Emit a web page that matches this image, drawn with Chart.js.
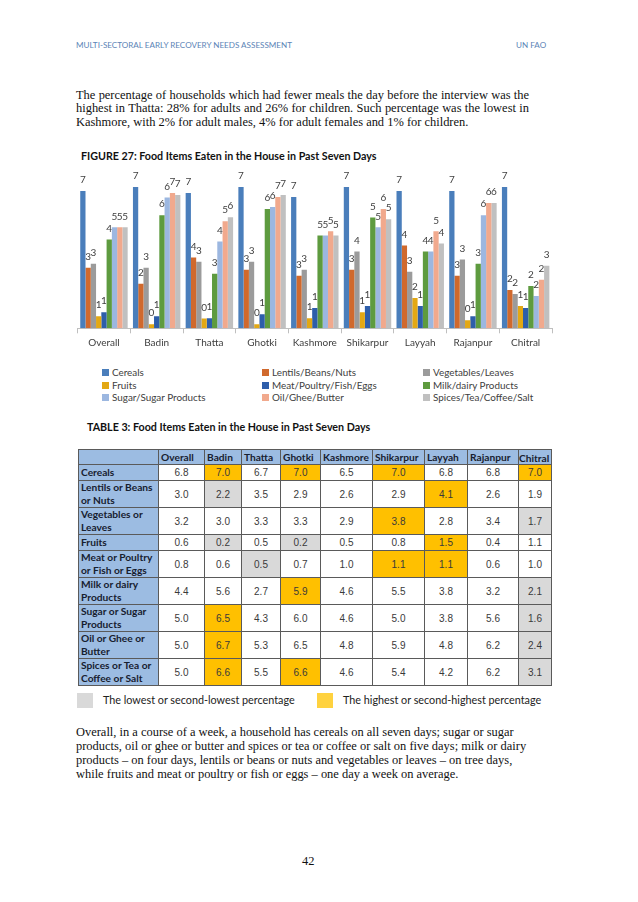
<!DOCTYPE html>
<html>
<head>
<meta charset="utf-8">
<script src="https://cdn.jsdelivr.net/npm/chart.js@4.4.1/dist/chart.umd.min.js"></script>
<style>
  html, body { margin:0; padding:0; background:#fff; }
  #page { position:relative; width:638px; height:902px; overflow:hidden; background:#fff; }
  .abs { position:absolute; white-space:nowrap; }
  .hdr { font-family:'Lato', sans-serif; font-size:8.1px; color:#5b84b6; top:40px; }
  .serif { font-family:'Liberation Serif','Times New Roman',serif; font-size:12.45px; color:#111; }
  .jl { width:453px; text-align:justify; text-align-last:justify; }
  .ttl { font-family:'Lato', sans-serif; font-weight:bold; font-size:10.7px; color:#111; }
  #chartBox { position:absolute; left:60px; top:160px; width:510px; height:200px; }
  .leg { position:absolute; font-family:'Lato', sans-serif; font-size:9.9px; color:#404040; white-space:nowrap; line-height:12px; }
  .leg i { display:inline-block; width:7px; height:7px; margin-right:3px; vertical-align:0px; }
  table.t { position:absolute; left:78px; top:449px; border-collapse:collapse; table-layout:fixed; }
  table.t td { border:1px solid #5a5a5a; padding:0; overflow:hidden; }
  table.t td.h { background:#9cbce2; font-family:'Lato',sans-serif; font-weight:bold; font-size:10.2px; color:#17202f; padding-left:2px; line-height:13px; }
  table.t td.h.last { padding-left:0; white-space:nowrap; overflow:visible; }
  table.t td.n { font-family:'Liberation Sans',Arial,sans-serif; font-size:10px; color:#3a3a3a; text-align:center; }
  table.t td.g { background:#ffc000; }
  table.t td.l { background:#d9d9d9; }
  .bl { position:absolute; font-family:'Lato',sans-serif; font-size:10.8px; color:#222; white-space:nowrap; }
</style>
</head>
<body>
<div id="page">
  <div class="abs hdr" style="left:76px;">MULTI-SECTORAL EARLY RECOVERY NEEDS ASSESSMENT</div>
  <div class="abs hdr" style="left:516px;">UN FAO</div>

  <div class="abs serif jl" style="left:76px; top:88px;">The percentage of households which had fewer meals the day before the interview was the</div>
  <div class="abs serif jl" style="left:76px; top:101.3px;">highest in Thatta: 28% for adults and 26% for children. Such percentage was the lowest in</div>
  <div class="abs serif" style="left:76px; top:114.6px;">Kashmore, with 2% for adult males, 4% for adult females and 1% for children.</div>

  <div class="abs ttl" style="left:81px; top:149px;">FIGURE 27: Food Items Eaten in the House in Past Seven Days</div>

  <div id="chartBox"><canvas id="c"></canvas></div>
  <div id="legend"></div>

  <div class="abs ttl" style="left:87px; top:420px;">TABLE 3: Food Items Eaten in the House in Past Seven Days</div>
  <table class="t" id="tbl"></table>

  <div class="abs" style="left:77px; top:693px; width:16px; height:15px; background:#d9d9d9;"></div>
  <div class="bl" style="left:103px; top:693px;">The lowest or second-lowest percentage</div>
  <div class="abs" style="left:317px; top:693px; width:16px; height:15px; background:#ffd23f;"></div>
  <div class="bl" style="left:343px; top:693px;">The highest or second-highest percentage</div>

  <div class="abs serif" style="left:76px; top:725px;">Overall, in a course of a week, a household has cereals on all seven days; sugar or sugar</div>
  <div class="abs serif" style="left:76px; top:739px;">products, oil or ghee or butter and spices or tea or coffee or salt on five days; milk or dairy</div>
  <div class="abs serif" style="left:76px; top:753px;">products – on four days, lentils or beans or nuts and vegetables or leaves – on tree days,</div>
  <div class="abs serif" style="left:76px; top:767px;">while fruits and meat or poultry or fish or eggs – one day a week on average.</div>

  <div class="abs serif" style="left:302px; top:854px;">42</div>
</div>

<script>
const categories = ['Overall','Badin','Thatta','Ghotki','Kashmore','Shikarpur','Layyah','Rajanpur','Chitral'];
const cereals    = [6.8, 7.0, 6.7, 7.0, 6.5, 7.0, 6.8, 6.8, 7.0];
const lentils    = [3.0, 2.2, 3.5, 2.9, 2.6, 2.9, 4.1, 2.6, 1.9];
const vegetables = [3.2, 3.0, 3.3, 3.3, 2.9, 3.8, 2.8, 3.4, 1.7];
const fruits     = [0.6, 0.2, 0.48, 0.2, 0.5, 0.8, 1.5, 0.4, 1.1];
const meat       = [0.8, 0.6, 0.5, 0.7, 1.0, 1.1, 1.1, 0.6, 1.0];
const milk       = [4.4, 5.6, 2.7, 5.9, 4.6, 5.48, 3.8, 3.2, 2.1];
const sugar      = [5.0, 6.48, 4.3, 6.0, 4.6, 5.0, 3.8, 5.6, 1.6];
const oil        = [5.0, 6.7, 5.3, 6.5, 4.8, 5.9, 4.8, 6.2, 2.4];
const spices     = [5.0, 6.6, 5.5, 6.6, 4.6, 5.4, 4.2, 6.2, 3.1];

const seriesNames = ['Cereals','Lentils/Beans/Nuts','Vegetables/Leaves','Fruits','Meat/Poultry/Fish/Eggs','Milk/dairy Products','Sugar/Sugar Products','Oil/Ghee/Butter','Spices/Tea/Coffee/Salt'];
const rowNames = ['Cereals','Lentils or Beans or Nuts','Vegetables or Leaves','Fruits','Meat or Poultry or Fish or Eggs','Milk or dairy Products','Sugar or Sugar Products','Oil or Ghee or Butter','Spices or Tea or Coffee or Salt'];
const seriesValues = [cereals, lentils, vegetables, fruits, meat, milk, sugar, oil, spices];

// highlight marks per row: 'g' = highest/second-highest, 'l' = lowest/second-lowest
const highlights = [
  '.g.g.g..g',
  '.l....g..',
  '.....g..l',
  '.l.l..g..',
  '..l..gg..',
  '...g....l',
  '.g......l',
  '.g......l',
  '.g.g....l'
];

const colors = ['#4a7ebb','#d0692d','#9b9b9b','#e3a814','#2e5eaa','#5e9b3f','#9cb7e0','#f1a98d','#c0c0c0'];

// ---- Table ----
(function buildTable(){
  const colW = [80, 46, 37, 39, 40, 52, 52, 43, 51, 33];
  const rowH = [15, 16, 27, 27, 16, 27, 27, 27, 27, 27];
  const tbl = document.getElementById('tbl');
  let html = '<colgroup>' + colW.map(w => '<col style="width:' + w + 'px">').join('') + '</colgroup>';
  html += '<tr style="height:' + rowH[0] + 'px"><td class="h"></td>' + categories.map((c, j) =>
    (j === categories.length - 1
      ? '<td class="h last"><span style="position:relative;top:1.5px">' + c + '</span></td>'
      : '<td class="h">' + c + '</td>')).join('') + '</tr>';
  rowNames.forEach((r, i) => {
    html += '<tr style="height:' + rowH[i+1] + 'px"><td class="h">' + r + '</td>';
    seriesValues[i].forEach((v, j) => {
      const m = highlights[i][j];
      const cls = 'n' + (m === 'g' ? ' g' : m === 'l' ? ' l' : '');
      html += '<td class="' + cls + '">' + v.toFixed(1) + '</td>';
    });
    html += '</tr>';
  });
  tbl.innerHTML = html;
})();

// ---- Legend ----
(function buildLegend(){
  const lg = document.getElementById('legend');
  const colX = [102, 262, 423];
  const rowY = [366, 378.5, 391];
  seriesNames.forEach((n, i) => {
    const d = document.createElement('div');
    d.className = 'leg';
    d.style.left = colX[i % 3] + 'px';
    d.style.top = rowY[Math.floor(i / 3)] + 'px';
    d.innerHTML = '<i style="background:' + colors[i] + '"></i>' + n;
    lg.appendChild(d);
  });
})();

// ---- Chart ----
const valueLabels = {
  id: 'valueLabels',
  afterDatasetsDraw(chart) {
    const ctx = chart.ctx;
    ctx.save();
    ctx.font = '10px Lato';
    ctx.fillStyle = '#404040';
    ctx.textAlign = 'center';
    ctx.textBaseline = 'middle';
    chart.data.datasets.forEach((ds, i) => {
      chart.getDatasetMeta(i).data.forEach((bar, j) => {
        ctx.fillText(String(Math.round(ds.data[j])), bar.x, bar.y - 11);
      });
    });
    ctx.restore();
  }
};

function draw() {
  new Chart(document.getElementById('c'), {
    type: 'bar',
    data: {
      labels: categories,
      datasets: seriesValues.map((vals, i) => ({
        label: seriesNames[i],
        data: vals,
        backgroundColor: colors[i],
        borderWidth: 0,
        categoryPercentage: 0.9,
        barPercentage: 1.0
      }))
    },
    options: {
      responsive: true,
      maintainAspectRatio: false,
      animation: false,
      layout: { padding: { left: 17.6, right: 18, top: 6.7, bottom: 9.7 } },
      plugins: { legend: { display: false }, tooltip: { enabled: false } },
      scales: {
        y: { display: false, min: 0, max: 8 },
        x: {
          grid: { drawOnChartArea: false, drawTicks: true, tickLength: 5, color: '#bfbfbf' },
          border: { color: '#bfbfbf' },
          ticks: { color: '#404040', font: { family: 'Lato', size: 10 }, padding: 3, maxRotation: 0 },
          afterFit: (s) => { s.height = 22; }
        }
      }
    },
    plugins: [valueLabels]
  });
}
Promise.all([document.fonts.load('10px Lato'), document.fonts.load('bold 10px Lato')]).then(draw, draw);
</script>
</body>
</html>
